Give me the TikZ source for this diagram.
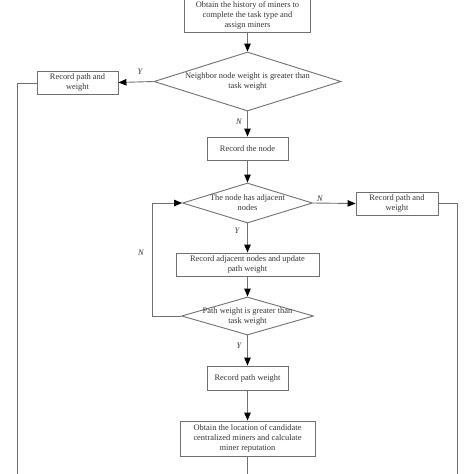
\documentclass[tikz,border=0pt]{standalone}
\usepackage{fontspec}
\setmainfont{Liberation Serif}
\usetikzlibrary{arrows.meta,shapes.geometric}
\definecolor{ln}{HTML}{707070}
\definecolor{tx}{HTML}{333333}
\tikzset{
  box/.style={draw=ln, line width=0.9pt, rectangle, inner sep=0pt, align=center, text=tx, font=\fontsize{8.4}{10}\selectfont},
  dia/.style={draw=ln, line width=0.9pt, diamond, inner sep=0pt},
  dtext/.style={align=center, text=tx, inner sep=0pt, font=\fontsize{8.4}{10}\selectfont},
  conn/.style={draw=ln, line width=0.9pt},
  arr/.style={conn, -{Triangle[length=8pt,width=6.5pt,fill=black,color=black]}},
  yn/.style={text=tx, font=\fontsize{8.4}{10}\selectfont\itshape, inner sep=0pt}
}
\begin{document}
\begin{tikzpicture}[x=1pt,y=-1pt]
\useasboundingbox (0,0) rectangle (474,474);
% nodes
\node[box, minimum width=126pt, minimum height=34pt] (top) at (247.5,15.5) {Obtain the history of miners to\\complete the task type and\\assign miners};
\node[dia, minimum width=187pt, minimum height=59pt] (d1) at (247.5,81.5) {};
\node[dtext] (d1t) at (d1) {Neighbor node weight is greater than\\task weight};
\node[box, minimum width=81pt, minimum height=23pt] (lb) at (77.5,82.5) {Record path and\\weight};
\node[box, minimum width=81pt, minimum height=23pt] (rn) at (247.5,148.5) {Record the node};
\node[dia, minimum width=130pt, minimum height=40pt] (d2) at (247.5,203) {};
\node[dtext] (d2t) at (d2) {The node has adjacent\\nodes};
\node[box, minimum width=82pt, minimum height=23pt] (rb) at (397,203.5) {Record path and\\weight};
\node[box, minimum width=143pt, minimum height=23pt] (adj) at (247.5,264.5) {Record adjacent nodes and update\\path weight};
\node[dia, minimum width=132pt, minimum height=38pt] (d3) at (247.5,316) {};
\node[dtext] (d3t) at (d3) {Path weight is greater than\\task weight};
\node[box, minimum width=81pt, minimum height=24pt] (rpw) at (247.5,378) {Record path weight};
\node[box, minimum width=135pt, minimum height=35pt] (loc) at (247.5,438.5) {Obtain the location of candidate\\centralized miners and calculate\\miner reputation};
% free ends / bends
\coordinate (lcorner) at (17,83);
\coordinate (lend) at (17,480);
\coordinate (rcorner) at (457,203.5);
\coordinate (rend) at (457,480);
\coordinate (bend) at (247.5,480);
\coordinate (loopa) at (152,316);
\coordinate (loopb) at (152,203);
% connectors
\draw[arr] (top) -- (d1.north);
\draw[arr] (d1.west) -- (lb.east);
\draw[conn] (lb.west |- lcorner) -- (lcorner) -- (lend);
\draw[arr] (d1.south) -- (rn.north);
\draw[arr] (rn.south) -- (d2.north);
\draw[arr] (d2.east) -- (rb.west);
\draw[conn] (rb.east) -- (rcorner) -- (rend);
\draw[arr] (d2.south) -- (adj.north);
\draw[arr] (adj.south) -- (d3.north);
\draw[arr] (d3.west) -- (loopa) -- (loopb) -- (d2.west);
\draw[arr] (d3.south) -- (rpw.north);
\draw[arr] (rpw.south) -- (loc.north);
\draw[conn] (loc.south) -- (bend);
% labels
\node[yn] (ly1) at (140,72) {Y};
\node[yn] (ln1) at (239,122) {N};
\node[yn] (ln2) at (320,198.5) {N};
\node[yn] (ly2) at (237,231) {Y};
\node[yn] (ln3) at (141,253) {N};
\node[yn] (ly3) at (239,346) {Y};
\end{tikzpicture}
\end{document}
